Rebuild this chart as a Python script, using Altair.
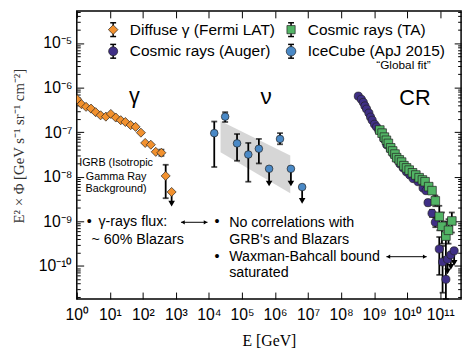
import altair as alt
import pandas as pd

# ---------------- data (log10 E [GeV], log10 E^2 Phi) ----------------
gam_logE = [0.01, 0.14, 0.28, 0.43, 0.57, 0.72, 0.88, 1.03, 1.18, 1.33, 1.47, 1.63, 1.78, 1.94, 2.07, 2.24, 2.39, 2.56, 2.69, 2.87]
gam_logF = [-6.26, -6.37, -6.43, -6.47, -6.55, -6.62, -6.65, -6.59, -6.67, -6.73, -6.77, -6.84, -6.88, -7.01, -7.24, -7.28, -7.44, -7.46, -7.98, -8.34]
gam_err_logE = [2.56, 2.69]
gam_err_lo = [-7.53, -8.48]
gam_err_hi = [-7.39, -7.73]
gam_lim_logE = [2.87]
gam_lim_from = [-8.34]
gam_lim_to = [-8.60]

ic_logE = [4.16, 4.49, 4.85, 5.19, 5.51, 5.82, 6.15, 6.48, 6.82]
ic_logF = [-7.02, -6.65, -7.25, -7.50, -7.37, -7.82, -7.15, -7.82, -8.23]
ic_err_logE = [4.16, 4.49, 4.85, 5.19, 5.51, 6.15]
ic_err_lo = [-7.78, -6.77, -7.64, -8.11, -7.70, -7.27]
ic_err_hi = [-6.76, -6.55, -7.04, -7.24, -7.15, -7.02]
ic_lim_logE = [5.82, 6.48, 6.82]
ic_lim_from = [-7.82, -7.82, -8.23]
ic_lim_to = [-8.15, -8.15, -8.54]

band_logE = [4.35, 6.46]
band_top = [-6.75, -7.52]
band_bot = [-7.45, -8.37]

aug_logE = [8.52, 8.61, 8.67, 8.72, 8.77, 8.84, 8.89, 8.94, 9.01, 9.07, 9.14, 9.29, 9.38, 9.49, 9.58, 9.68, 9.78, 9.88, 9.98, 10.08, 10.18, 10.33, 10.48, 10.57, 10.63, 10.75, 10.85, 10.97, 11.07, 11.17, 11.22, 11.32, 11.42]
aug_logF = [-6.19, -6.26, -6.33, -6.41, -6.48, -6.57, -6.66, -6.73, -6.82, -6.88, -6.96, -7.15, -7.28, -7.38, -7.49, -7.60, -7.71, -7.80, -7.89, -7.96, -8.04, -8.11, -8.25, -8.31, -8.58, -8.82, -9.02, -9.62, -9.91, -10.30, -9.85, -9.75, -9.66]
aug_err_logE = [10.63, 10.75, 10.85, 10.97, 11.07, 11.17]
aug_err_lo = [-8.64, -8.90, -9.13, -10.20, -10.60, -10.74]
aug_err_hi = [-8.52, -8.74, -8.92, -9.35, -9.55, -9.90]
aug_lim_logE = [11.22, 11.32, 11.42]
aug_lim_from = [-9.85, -9.75, -9.66]
aug_lim_to = [-10.12, -10.02, -9.93]

ta_logE = [9.17, 9.24, 9.31, 9.37, 9.43, 9.50, 9.56, 9.63, 9.68, 9.76, 9.83, 9.90, 9.98, 10.06, 10.16, 10.26, 10.36, 10.46, 10.54, 10.65, 10.75, 10.85, 10.97, 11.05, 11.17, 11.25, 11.35]
ta_logF = [-6.95, -7.02, -7.11, -7.18, -7.25, -7.35, -7.42, -7.49, -7.57, -7.62, -7.67, -7.75, -7.80, -7.85, -7.91, -7.96, -8.02, -8.07, -8.11, -8.22, -8.31, -8.54, -8.89, -9.11, -9.33, -9.20, -8.99]
ta_err_logE = [10.85, 10.97, 11.05, 11.17, 11.25, 11.35]
ta_err_lo = [-8.66, -9.20, -9.50, -9.80, -9.50, -9.25]
ta_err_hi = [-8.42, -8.65, -8.80, -9.00, -8.95, -8.80]

series_names = ["Diffuse γ (Fermi LAT)", "Cosmic rays (TA)", "Cosmic rays (Auger)", "IceCube (ApJ 2015)"]
series_colors = ["#f2912e", "#52b465", "#3f2f86", "#4a89c6"]
series_shapes = ["diamond", "square", "circle", "circle"]
series_sizes = [85, 60, 75, 85]

x_major = list(range(0, 12))
y_major = list(range(-10, -4))

# ---------------- tables ----------------
def pts(name, le, lf):
    return pd.DataFrame({"x": [10 ** v for v in le], "y": [10 ** v for v in lf], "series": name})

markers = pd.concat([
    pts(series_names[0], gam_logE, gam_logF),
    pts(series_names[2], aug_logE, aug_logF),
    pts(series_names[1], ta_logE, ta_logF),
    pts(series_names[3], ic_logE, ic_logF),
], ignore_index=True)

def errs(le, lo, hi):
    return pd.DataFrame({"x": [10 ** v for v in le], "lo": [10 ** v for v in lo], "hi": [10 ** v for v in hi]})

errors = pd.concat([
    errs(gam_err_logE, gam_err_lo, gam_err_hi),
    errs(ic_err_logE, ic_err_lo, ic_err_hi),
    errs(aug_err_logE, aug_err_lo, aug_err_hi),
    errs(ta_err_logE, ta_err_lo, ta_err_hi),
], ignore_index=True)

def lims(le, fr, to):
    return pd.DataFrame({"x": [10 ** v for v in le], "y": [10 ** v for v in fr], "lo": [10 ** v for v in to]})

limits = pd.concat([
    lims(gam_lim_logE, gam_lim_from, gam_lim_to),
    lims(ic_lim_logE, ic_lim_from, ic_lim_to),
    lims(aug_lim_logE, aug_lim_from, aug_lim_to),
], ignore_index=True)

band = pd.DataFrame({"x": [10 ** v for v in band_logE],
                     "top": [10 ** v for v in band_top],
                     "bot": [10 ** v for v in band_bot]})

# ---------------- scales & axes ----------------
xs = alt.Scale(type="log", domain=[1, 10 ** 11.63], nice=False)
ys = alt.Scale(type="log", domain=[10 ** -10.74, 10 ** -4.28], nice=False)

SUP = str.maketrans("0123456789-", "⁰¹²³⁴⁵⁶⁷⁸⁹⁻")

def label_expr(exps):
    parts = [f"round(log(datum.value)/LN10) == {e} ? '10{str(e).translate(SUP)}'" for e in exps]
    return " : ".join(parts) + " : ''"

y_minor = [k * 10 ** e for e in range(-11, -4) for k in range(2, 10)
           if 10 ** -10.74 < k * 10 ** e < 10 ** -4.28]

LABEL_FONT = "Liberation Sans"

ax_x_main = alt.Axis(orient="bottom", values=[10 ** e for e in x_major], labelExpr=label_expr(x_major),
                     ticks=False, domain=False, grid=False, labelFont=LABEL_FONT, labelFontSize=16,
                     labelColor="black", labelPadding=8, labelFlush=False, labelOverlap=False,
                     title="E [GeV]", titleFont="Liberation Serif", titleFontSize=16,
                     titleFontWeight="normal", titleColor="black", titlePadding=10)
ax_y_main = alt.Axis(orient="left", values=[10 ** e for e in y_major], labelExpr=label_expr(y_major),
                     ticks=False, domain=False, grid=False, labelFont=LABEL_FONT, labelFontSize=16,
                     labelColor="black", labelPadding=5, labelFlush=False, labelOverlap=False,
                     title="E² × Φ [GeV s⁻¹ sr⁻¹ cm⁻²]", titleFont="Liberation Serif", titleFontSize=15,
                     titleFontWeight="normal", titleColor="#333333", titleAngle=270,
                     titleX=-59, titleY=137, titleAlign="center", titleBaseline="middle")

def tick_axis(orient, values, size):
    return alt.Axis(orient=orient, values=values, labels=False, ticks=True, tickSize=size,
                    tickWidth=1, tickColor="black", domain=False, grid=False, title=None,
                    offset=-size)

ax_x_bot_major = tick_axis("bottom", [10 ** e for e in x_major], 7)
ax_x_top_major = tick_axis("top", [10 ** e for e in x_major], 7)
ax_y_left_major = tick_axis("left", [10 ** e for e in y_major], 7)
ax_y_right_major = tick_axis("right", [10 ** e for e in y_major], 7)
ax_y_left_minor = tick_axis("left", y_minor, 3.5)
ax_y_right_minor = tick_axis("right", y_minor, 3.5)

# ---------------- layers ----------------
band_layer = alt.Chart(band).mark_area(color="#cfcfcf", opacity=0.85).encode(
    x=alt.X("x:Q", scale=xs, axis=None),
    y=alt.Y("top:Q", scale=ys, axis=None),
    y2="bot:Q",
)

err_rules = alt.Chart(errors).mark_rule(color="black", strokeWidth=1.8).encode(
    x=alt.X("x:Q", scale=xs, axis=ax_x_bot_major),
    y=alt.Y("lo:Q", scale=ys, axis=ax_y_left_major),
    y2="hi:Q",
)
caps_top = alt.Chart(errors).mark_tick(color="black", orient="horizontal", size=6, thickness=1.8).encode(
    x=alt.X("x:Q", scale=xs, axis=ax_x_top_major),
    y=alt.Y("hi:Q", scale=ys, axis=ax_y_right_major),
)
caps_bot = alt.Chart(errors).mark_tick(color="black", orient="horizontal", size=6, thickness=1.8).encode(
    x=alt.X("x:Q", scale=xs, axis=None),
    y=alt.Y("lo:Q", scale=ys, axis=ax_y_left_minor),
)
lim_rules = alt.Chart(limits).mark_rule(color="black", strokeWidth=1.8).encode(
    x=alt.X("x:Q", scale=xs, axis=None),
    y=alt.Y("y:Q", scale=ys, axis=ax_y_right_minor),
    y2="lo:Q",
)
lim_heads = alt.Chart(limits).mark_point(shape="triangle-down", filled=True, color="black",
                                          size=45, opacity=1).encode(
    x=alt.X("x:Q", scale=xs, axis=None),
    y=alt.Y("lo:Q", scale=ys, axis=None),
)

marker_layer = alt.Chart(markers).mark_point(filled=True, opacity=1, stroke="#222222",
                                              strokeWidth=0.7, clip=True).encode(
    x=alt.X("x:Q", scale=xs, axis=ax_x_main),
    y=alt.Y("y:Q", scale=ys, axis=ax_y_main),
    color=alt.Color("series:N", scale=alt.Scale(domain=series_names, range=series_colors), legend=None),
    shape=alt.Shape("series:N", scale=alt.Scale(domain=series_names, range=series_shapes), legend=None),
    size=alt.Size("series:N", scale=alt.Scale(domain=series_names, range=series_sizes), legend=None),
)

one = pd.DataFrame({"k": [0]})

def txt(s, px, py, size=14.5, align="left", font=LABEL_FONT, baseline="middle", color="black"):
    return alt.Chart(one).mark_text(text=s, fontSize=size, align=align, baseline=baseline,
                                    font=font, color=color).encode(
        x=alt.value(px), y=alt.value(py))

def double_arrow(x1, x2, py):
    line = alt.Chart(one).mark_rule(color="black", strokeWidth=1).encode(
        x=alt.value(x1), x2=alt.value(x2), y=alt.value(py))
    left = alt.Chart(one).mark_point(shape="triangle-left", filled=True, color="black", size=18,
                                     opacity=1).encode(x=alt.value(x1 + 2), y=alt.value(py))
    right = alt.Chart(one).mark_point(shape="triangle-right", filled=True, color="black", size=18,
                                      opacity=1).encode(x=alt.value(x2 - 2), y=alt.value(py))
    return [line, left, right]

def legend_item(i, px, py):
    bar = alt.Chart(one).mark_rule(color="black", strokeWidth=1.5).encode(
        x=alt.value(px), y=alt.value(py - 7), y2=alt.value(py + 7))
    cap1 = alt.Chart(one).mark_rule(color="black", strokeWidth=1.5).encode(
        x=alt.value(px - 3), x2=alt.value(px + 3), y=alt.value(py - 7))
    cap2 = alt.Chart(one).mark_rule(color="black", strokeWidth=1.5).encode(
        x=alt.value(px - 3), x2=alt.value(px + 3), y=alt.value(py + 7))
    mk = alt.Chart(one).mark_point(shape=series_shapes[i], filled=True, fill=series_colors[i],
                                   stroke="#222222", strokeWidth=0.7, size=series_sizes[i] + 10,
                                   opacity=1).encode(x=alt.value(px), y=alt.value(py))
    lab = txt(series_names[i], px + 17, py, size=15.7)
    return [bar, cap1, cap2, mk, lab]

legend_layers = (legend_item(0, 37, 19) + legend_item(1, 218, 19)
                 + legend_item(2, 37, 41) + legend_item(3, 218, 41))

texts = [
    txt("γ", 53, 94, size=22, baseline="alphabetic"),
    txt("ν", 187, 95, size=23, baseline="alphabetic"),
    txt("CR", 344, 96, size=22, align="center", baseline="alphabetic"),
    txt("“Global fit”", 360, 55, size=12, align="right"),
    txt("IGRB (Isotropic", 40, 155, size=11, align="center"),
    txt("Gamma Ray", 40, 169, size=11, align="center"),
    txt("Background)", 40, 181, size=11, align="center"),
    txt("•", 10, 215),
    txt("γ-rays flux:", 22, 215),
    txt("~ 60% Blazars", 15, 233),
    txt("•", 140, 215),
    txt("No correlations with", 155, 216),
    txt("GRB's and Blazars", 155, 233),
    txt("•", 140, 250),
    txt("Waxman-Bahcall bound", 155, 250),
    txt("saturated", 155, 267),
]

arrows = double_arrow(106, 133, 215) + double_arrow(315, 356, 250)

chart = alt.layer(
    band_layer, err_rules, caps_top, caps_bot, lim_rules, lim_heads, marker_layer,
    *legend_layers, *texts, *arrows
).resolve_axis(x="independent", y="independent").properties(
    width=391, height=293,
    autosize=alt.AutoSizeParams(type="none"),
    padding={"left": 70, "top": 0, "right": 5, "bottom": 55},
).configure_view(stroke="black", strokeWidth=1.5)

chart.save("out.html", embed_options={"renderer": "svg", "actions": False})
